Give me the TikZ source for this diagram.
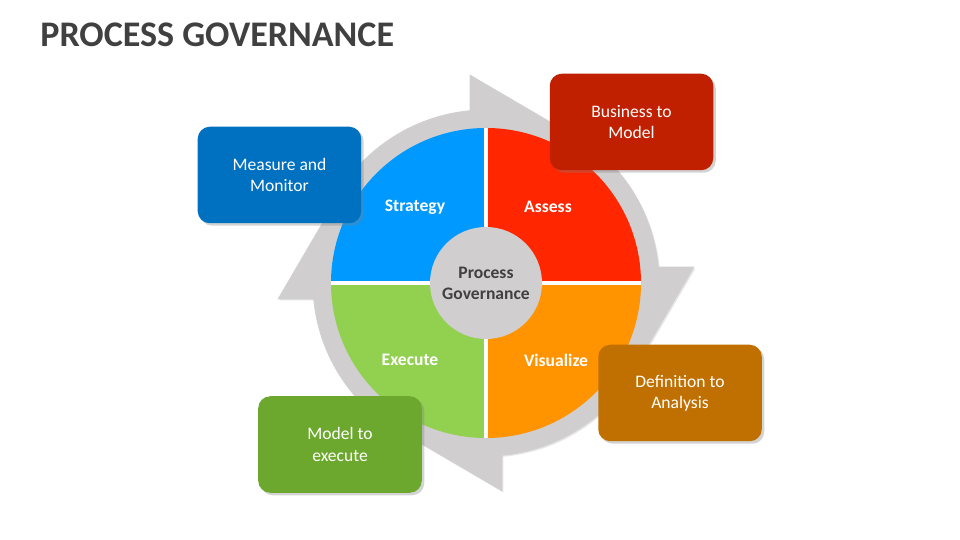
\documentclass[tikz,border=0pt]{standalone}
\usepackage{fontspec}
\setmainfont{Carlito}
\usetikzlibrary{shadows}

\definecolor{titlegray}{RGB}{64,64,64}
\definecolor{ringgray}{RGB}{208,206,206}
\definecolor{stratblue}{RGB}{0,153,255}
\definecolor{assessred}{RGB}{255,38,0}
\definecolor{visorange}{RGB}{255,147,0}
\definecolor{execgreen}{RGB}{146,208,80}
\definecolor{measureblue}{RGB}{0,112,192}
\definecolor{businessred}{RGB}{192,32,0}
\definecolor{defbrown}{RGB}{192,112,0}
\definecolor{modelgreen}{RGB}{108,168,46}

\begin{document}
\begin{tikzpicture}[
		infobox/.style={rounded corners=0.24cm, minimum width=3.27cm, minimum height=1.93cm,
			text=white, align=center, font=\fontsize{10}{12}\selectfont,
			drop shadow={opacity=0.35, shadow xshift=0.05cm, shadow yshift=-0.05cm}},
		seglabel/.style={text=white, font=\fontsize{10}{12}\selectfont\bfseries}
	]
		\useasboundingbox (-9.72,-5.14) rectangle (9.48,5.66);
		
		% --- TITULO ---
		\node[anchor=base west, inner sep=0, text=titlegray, font=\fontsize{20.5}{24}\selectfont\bfseries] (title) at (-8.92,4.72) {PROCESS GOVERNANCE};
		
		% --- ANILLO CON FLECHAS (sentido horario) ---
		\filldraw[fill=ringgray, draw=black!18, line width=0.5pt,
			drop shadow={opacity=0.2, shadow xshift=0.03cm, shadow yshift=-0.03cm}]
			(95.3:3.46) -- (94.4:4.17) -- (67.6:3.46) arc[start angle=67.6, end angle=5.3, radius=3.46]
			-- (4.4:4.17) -- (-22.4:3.46) arc[start angle=-22.4, end angle=-84.7, radius=3.46]
			-- (-85.6:4.17) -- (-112.4:3.46) arc[start angle=-112.4, end angle=-174.7, radius=3.46]
			-- (-175.6:4.17) -- (-202.4:3.46) arc[start angle=-202.4, end angle=-264.7, radius=3.46] -- cycle;
		
		% --- CUADRANTES ---
		\fill[stratblue] (0,0) -- (90:3.1) arc[start angle=90, end angle=180, radius=3.1] -- cycle;
		\fill[assessred] (0,0) -- (0:3.1) arc[start angle=0, end angle=90, radius=3.1] -- cycle;
		\fill[visorange] (0,0) -- (-90:3.1) arc[start angle=-90, end angle=0, radius=3.1] -- cycle;
		\fill[execgreen] (0,0) -- (180:3.1) arc[start angle=180, end angle=270, radius=3.1] -- cycle;
		\draw[white, line width=0.08cm] (-3.1,0) -- (3.1,0);
		\draw[white, line width=0.08cm] (0,-3.1) -- (0,3.1);
		
		\node[seglabel] (strategy) at (-1.42,1.52) {Strategy};
		\node[seglabel] (assess) at (1.24,1.52) {Assess};
		\node[seglabel] (execute) at (-1.52,-1.54) {Execute};
		\node[seglabel] (visualize) at (1.4,-1.54) {Visualize};
		
		% Centro
		\node[circle, fill=ringgray, minimum size=2.24cm, align=center, text=titlegray,
			font=\fontsize{10}{12}\selectfont\bfseries] (core) at (0,0) {Process\\Governance};
		
		% --- CAJAS ---
		\node[infobox, fill=measureblue] (measure) at (-4.13,2.16) {Measure and\\Monitor};
		\node[infobox, fill=businessred] (business) at (2.91,3.22) {Business to\\Model};
		\node[infobox, fill=defbrown] (definition) at (3.88,-2.2) {Definition to\\Analysis};
		\node[infobox, fill=modelgreen] (model) at (-2.92,-3.23) {Model to\\execute};
		
	\end{tikzpicture}
\end{document}
